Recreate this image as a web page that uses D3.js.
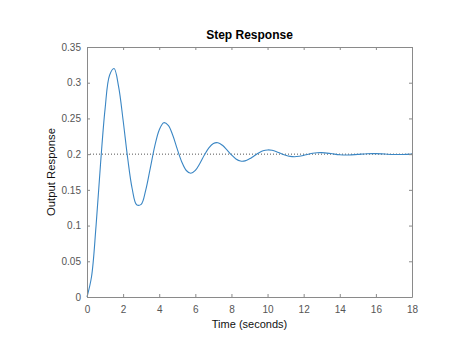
<!DOCTYPE html>
<html>
<head>
<meta charset="utf-8">
<script src="https://cdn.jsdelivr.net/npm/d3@7"></script>
<style>
  body { margin: 0; background: #fff; }
  text { font-family: "Liberation Sans", Arial, Helvetica, sans-serif; }
  .tick text { fill: #555; font-size: 10px; }
</style>
</head>
<body>
<div id="chart-area"></div>
<script>
// values
var times = [0, 0.25, 0.5, 0.75, 1, 1.25, 1.5, 1.75, 2, 2.25, 2.5, 2.75, 3, 3.25, 3.5, 3.75,
    4, 4.25, 4.5, 4.75, 5, 5.25, 5.5, 5.75, 6, 6.25, 6.5, 6.75, 7, 7.25, 7.5, 7.75,
    8, 8.25, 8.5, 8.75, 9, 9.25, 9.5, 9.75, 10, 10.25, 10.5, 10.75, 11, 11.25, 11.5, 11.75,
    12, 12.25, 12.5, 12.75, 13, 13.5, 14, 14.5, 15, 15.5, 16, 16.5, 17, 17.5, 18];
var response = [0, 0.0283, 0.0992, 0.1865, 0.2631, 0.3105, 0.3198, 0.2946, 0.2474, 0.1949, 0.1519, 0.1292, 0.1297, 0.1493, 0.1797, 0.2108,
    0.2339, 0.2440, 0.2404, 0.2265, 0.2071, 0.1891, 0.1771, 0.1732, 0.1773, 0.1870, 0.1987, 0.2089, 0.2150, 0.2160, 0.2124, 0.2060,
    0.1990, 0.1933, 0.1904, 0.1906, 0.1934, 0.1975, 0.2016, 0.2047, 0.2059, 0.2054, 0.2035, 0.2008, 0.1984, 0.1969, 0.1964, 0.1970,
    0.1983, 0.1999, 0.2013, 0.2020, 0.2021, 0.2008, 0.1991, 0.1988, 0.1997, 0.2006, 0.2007, 0.2001, 0.1996, 0.1996, 0.2000];
var steadyState = 0.2;
var xTicks = [0, 2, 4, 6, 8, 10, 12, 14, 16, 18];
var yTicks = [0, 0.05, 0.1, 0.15, 0.2, 0.25, 0.3, 0.35];

var margin = {top: 47, right: 62, bottom: 66, left: 87},
    width = 474 - margin.left - margin.right,
    height = 363 - margin.top - margin.bottom;

var svg = d3.select("#chart-area")
    .append("svg")
    .attr("width", 474)
    .attr("height", 363)
    .append("g")
    .attr("transform", "translate(" + margin.left + "," + margin.top + ")");

var xScale = d3.scaleLinear().domain([0, 18]).range([0, width]);
var yScale = d3.scaleLinear().domain([0, 0.35]).range([height, 0]);

var data = times.map(function(t, i) { return {t: t, y: response[i]}; });

// steady state dotted line
svg.append("line")
    .attr("x1", xScale(0))
    .attr("x2", xScale(18))
    .attr("y1", yScale(steadyState))
    .attr("y2", yScale(steadyState))
    .attr("stroke", "#555")
    .attr("stroke-width", 1)
    .attr("stroke-dasharray", "1,2");

var line = d3.line()
    .x(d => xScale(d.t))
    .y(d => yScale(d.y))
    .curve(d3.curveCatmullRom.alpha(0.5));

svg.append("path")
    .datum(data)
    .attr("fill", "none")
    .attr("stroke", "#3a86c4")
    .attr("stroke-width", 1.1)
    .attr("d", line);

function styleAxis(g) {
    g.select(".domain").attr("stroke", "#8a8a8a");
    g.selectAll(".tick line").attr("stroke", "#8a8a8a");
}

svg.append("g")
    .attr("transform", "translate(0," + height + ")")
    .call(d3.axisBottom(xScale).tickValues(xTicks).tickSizeInner(-3).tickSizeOuter(0).tickPadding(9))
    .call(styleAxis);

svg.append("g")
    .call(d3.axisLeft(yScale).tickValues(yTicks).tickSizeInner(-3).tickSizeOuter(0).tickPadding(6)
        .tickFormat(d => d === 0 ? "0" : String(+d.toFixed(2))))
    .call(styleAxis);

svg.append("g")
    .call(d3.axisTop(xScale).tickValues(xTicks).tickSizeInner(-3).tickSizeOuter(0).tickFormat(""))
    .call(styleAxis);

svg.append("g")
    .attr("transform", "translate(" + width + ",0)")
    .call(d3.axisRight(yScale).tickValues(yTicks).tickSizeInner(-3).tickSizeOuter(0).tickFormat(""))
    .call(styleAxis);

svg.append("text")
    .attr("x", width / 2)
    .attr("y", height + 31)
    .attr("text-anchor", "middle")
    .attr("font-size", "11px")
    .attr("fill", "#111")
    .text("Time (seconds)");

svg.append("text")
    .attr("transform", "rotate(-90)")
    .attr("x", -height / 2)
    .attr("y", -32)
    .attr("text-anchor", "middle")
    .attr("font-size", "11.3px")
    .attr("fill", "#111")
    .text("Output Response");

svg.append("text")
    .attr("x", width / 2)
    .attr("y", -8)
    .attr("text-anchor", "middle")
    .attr("font-size", "12px")
    .attr("font-weight", "bold")
    .attr("fill", "#000")
    .text("Step Response");
</script>
</body>
</html>
